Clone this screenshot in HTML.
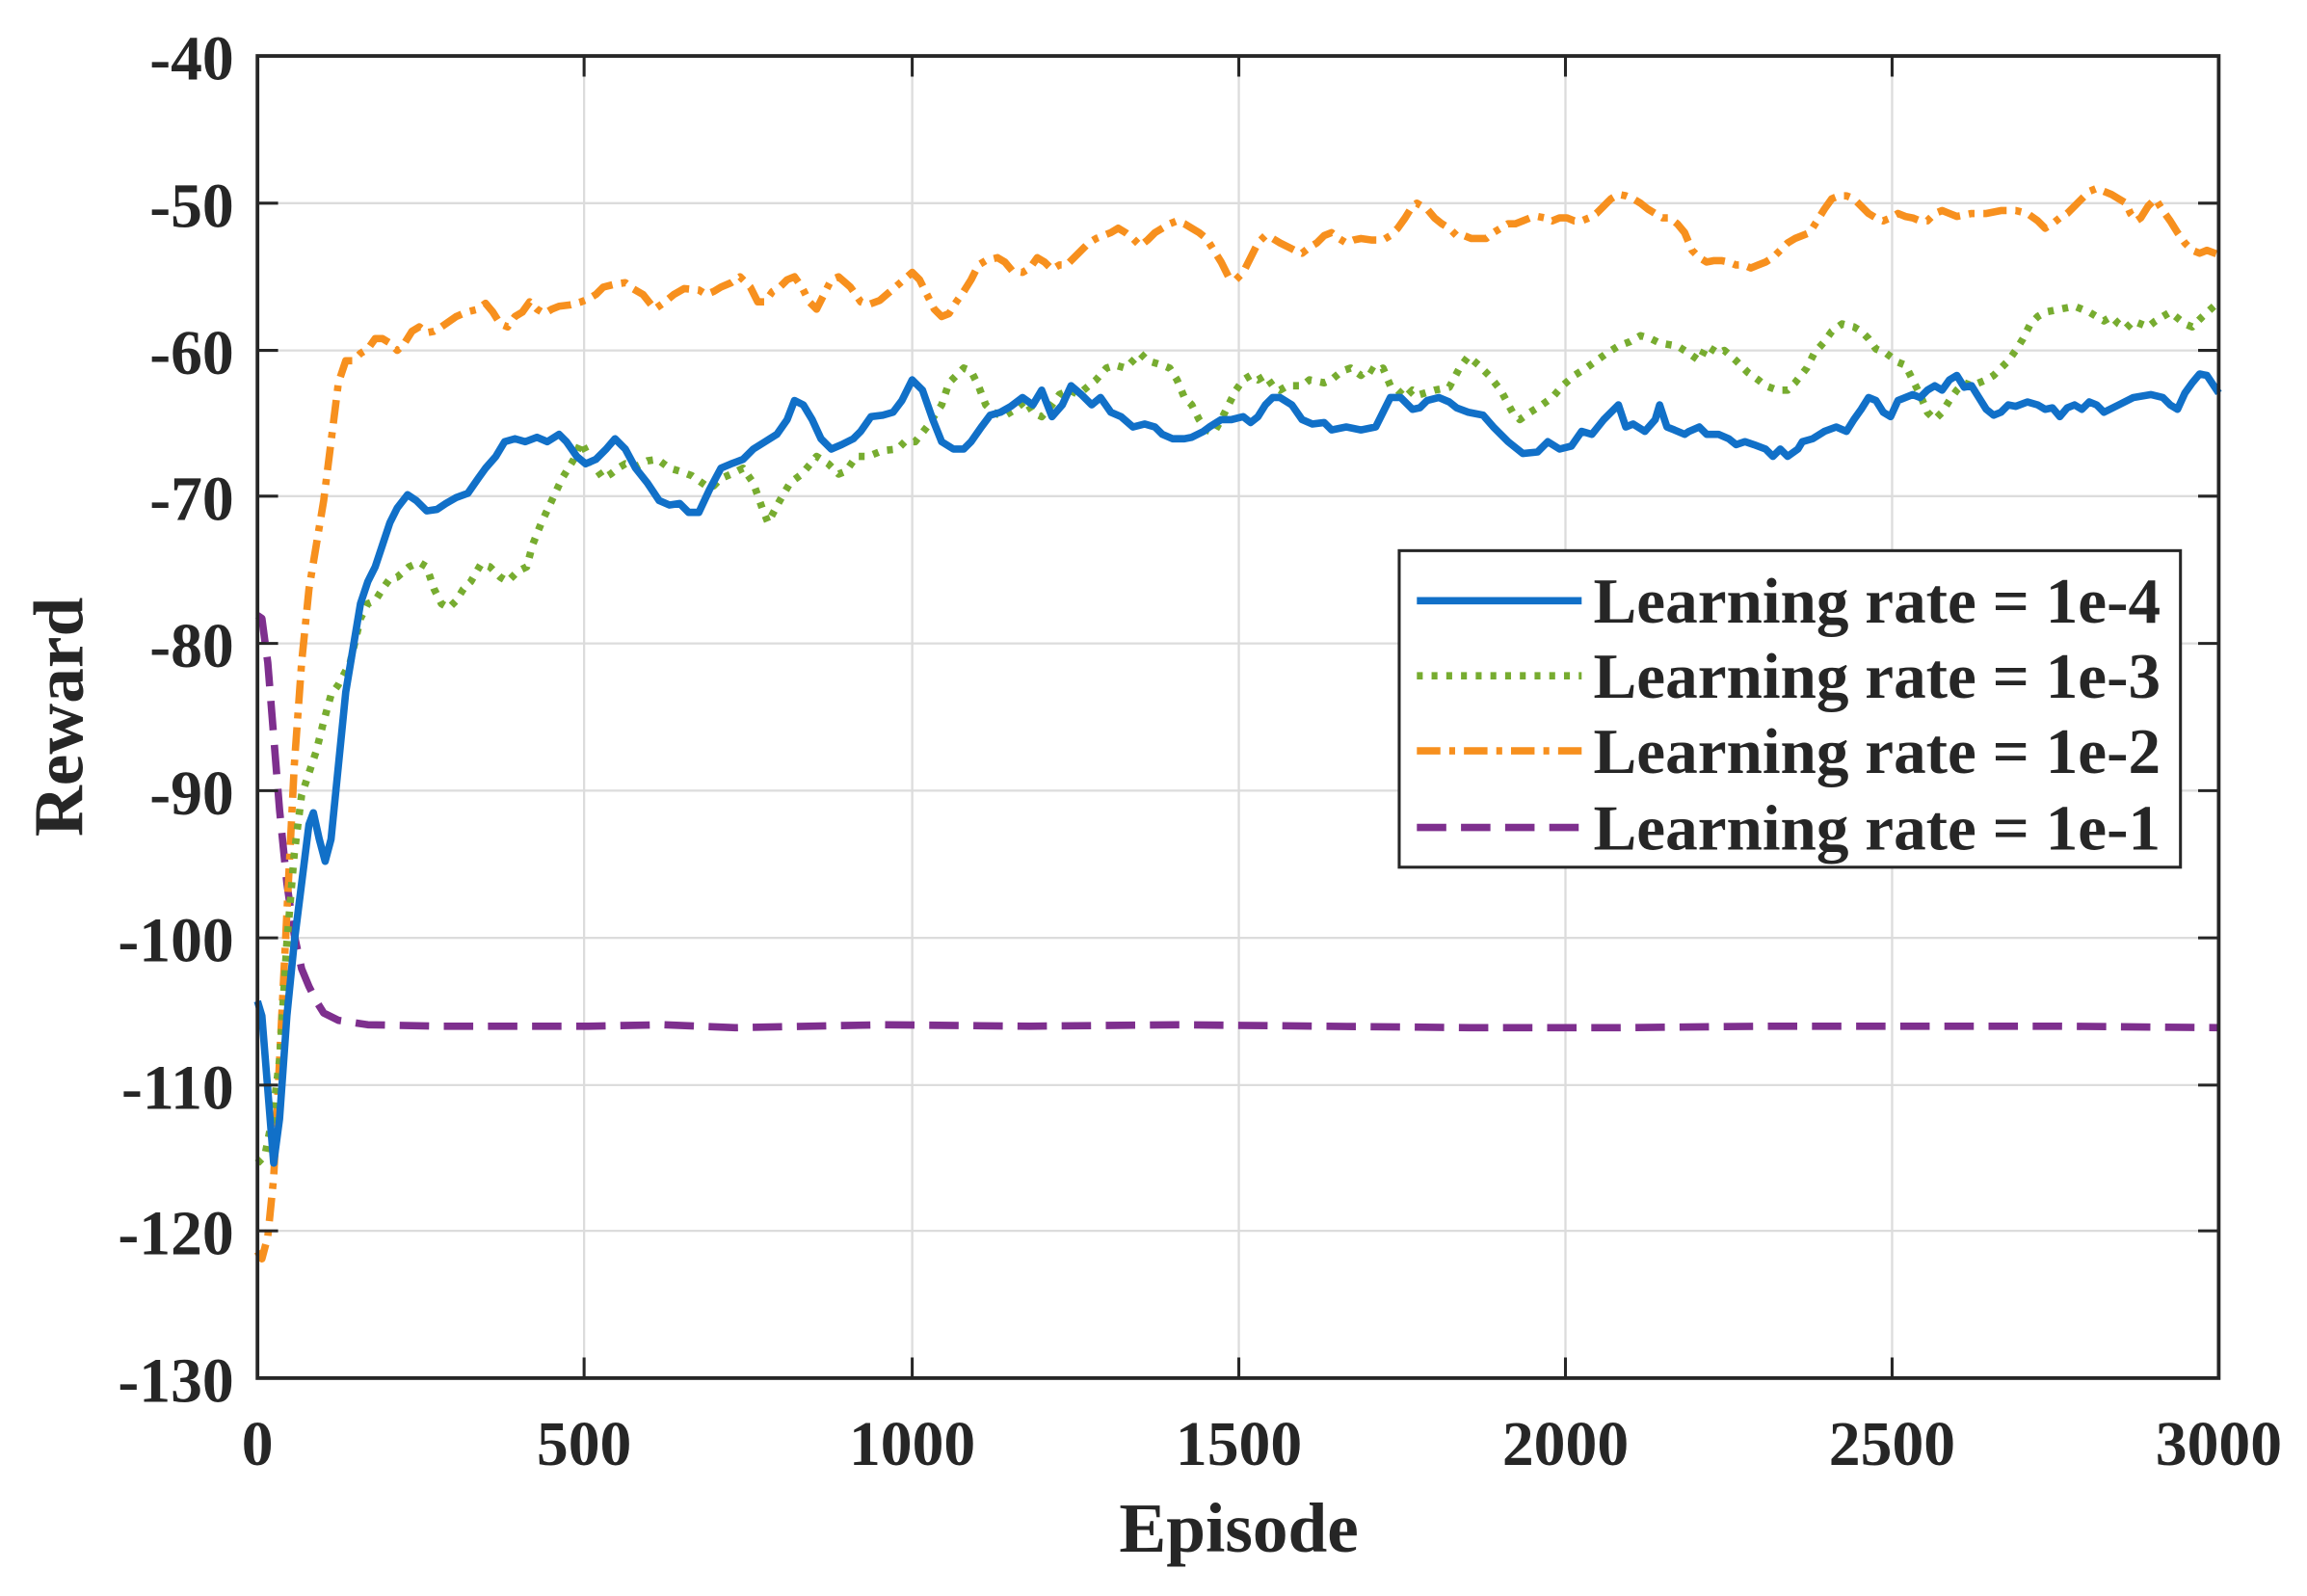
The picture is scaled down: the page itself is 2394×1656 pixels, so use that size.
<!DOCTYPE html>
<html><head><style>html,body{margin:0;padding:0;background:#fff}svg{display:block}</style></head>
<body>
<svg width="2394" height="1656" viewBox="0 0 1568 1084" preserveAspectRatio="none" xmlns="http://www.w3.org/2000/svg" font-family="Liberation Serif, serif" font-weight="bold" fill="#262626">
<rect width="1568" height="1084" fill="#fff"/>
<g stroke="#dcdcdc" stroke-width="1.5">
<line x1="397" y1="38" x2="397" y2="936"/><line x1="620" y1="38" x2="620" y2="936"/><line x1="842" y1="38" x2="842" y2="936"/><line x1="1064" y1="38" x2="1064" y2="936"/><line x1="1286" y1="38" x2="1286" y2="936"/>
<line x1="175" y1="138" x2="1508" y2="138"/><line x1="175" y1="238" x2="1508" y2="238"/><line x1="175" y1="337" x2="1508" y2="337"/><line x1="175" y1="437" x2="1508" y2="437"/><line x1="175" y1="537" x2="1508" y2="537"/><line x1="175" y1="637" x2="1508" y2="637"/><line x1="175" y1="737" x2="1508" y2="737"/><line x1="175" y1="836" x2="1508" y2="836"/>
</g>
<g fill="none" stroke-width="5" stroke-linejoin="round">
<polyline stroke="#7E2F8E" stroke-dasharray="20 10" points="175,418 178,420 182,450 186,500 190,550 195,600 200,635 205,658 210,670 215,680 220,688 230,693 250,696 300,697 400,697 450,696 500,698 600,696 700,697 800,696 900,697 1000,698 1100,698 1200,697 1300,697 1400,697 1508,698"/>
<polyline stroke="#F7901E" stroke-dasharray="16 6 4 6" points="175,850 178,855 182,840 186,800 190,720 195,620 200,520 205,450 210,400 215,370 220,340 225,300 230,260 235,245 240,245 245,240 250,237 255,230 260,230 265,233 270,238 275,233 280,225 285,222 290,226 295,225 300,222 310,215 317,212 325,210 330,206 335,212 340,220 345,222 350,215 355,212 360,205 365,210 370,213 375,210 380,208 388,207 395,205 400,203 405,200 410,195 418,193 425,192 430,196 437,200 445,210 452,205 458,200 465,196 475,197 480,200 485,198 490,195 497,192 503,188 510,195 515,205 520,205 525,198 530,195 535,190 540,188 545,195 550,205 555,210 560,200 565,190 570,188 578,195 585,205 590,207 598,204 605,198 612,192 620,185 625,190 630,200 635,210 640,215 645,213 650,205 655,198 660,190 665,180 670,177 678,175 683,178 688,184 695,185 700,182 705,175 710,178 715,183 720,180 725,180 730,175 735,170 740,165 745,162 750,160 755,158 760,155 765,158 770,162 775,167 780,163 785,158 790,155 795,152 800,150 805,152 810,155 815,158 820,162 825,170 830,178 835,188 840,190 845,185 850,175 855,165 860,160 865,162 870,165 880,170 885,172 890,168 895,165 900,160 905,158 910,162 915,165 920,163 925,162 932,163 940,163 945,160 950,155 955,148 960,140 963,138 970,142 975,148 980,152 985,155 990,160 995,160 1000,162 1010,162 1015,158 1020,155 1025,152 1030,152 1035,150 1040,148 1045,147 1050,148 1055,150 1060,148 1065,148 1070,150 1075,150 1080,148 1085,145 1090,140 1095,135 1100,132 1105,133 1110,135 1115,138 1120,142 1125,145 1130,148 1135,148 1140,152 1145,158 1150,170 1155,175 1160,178 1165,177 1170,177 1175,178 1180,180 1185,180 1190,182 1195,180 1200,178 1205,175 1210,170 1215,165 1220,162 1225,160 1230,158 1235,150 1240,142 1245,135 1250,133 1255,133 1260,135 1265,140 1270,145 1275,148 1280,150 1285,148 1290,145 1295,147 1300,148 1305,150 1310,150 1315,145 1320,143 1325,145 1330,147 1340,145 1350,145 1360,143 1370,143 1378,145 1385,150 1390,155 1395,152 1400,148 1405,145 1410,140 1415,135 1420,130 1425,128 1430,130 1435,132 1440,135 1445,138 1448,145 1452,150 1455,148 1460,140 1465,135 1470,143 1475,150 1480,158 1485,165 1490,170 1495,172 1500,170 1508,173"/>
<polyline stroke="#77AC30" stroke-dasharray="4 6" points="175,790 180,785 185,760 190,720 195,640 200,580 205,540 210,525 215,510 220,490 225,472 230,465 238,450 245,420 250,410 255,408 260,400 265,393 270,392 278,385 285,382 290,385 295,400 300,410 305,413 310,408 315,400 320,395 327,383 333,385 340,392 345,395 352,388 358,385 362,370 368,355 375,340 382,325 390,312 395,300 400,310 405,318 410,325 415,322 420,318 425,315 432,317 440,313 447,312 455,318 462,320 470,323 480,330 485,330 490,325 497,322 505,318 512,328 518,345 522,355 530,340 537,328 545,322 555,310 563,315 570,322 575,320 582,310 590,310 600,306 610,305 615,300 622,300 630,290 640,275 645,260 650,255 655,250 660,252 665,262 670,275 675,280 682,283 690,278 697,272 702,280 708,283 715,275 720,268 727,265 733,268 740,262 745,258 752,250 758,248 765,250 770,245 775,240 780,245 790,248 795,250 800,258 805,270 810,275 815,285 820,292 825,294 830,285 835,275 840,265 845,258 850,255 855,258 860,255 865,262 870,265 875,262 885,262 890,258 900,260 905,258 912,252 918,250 925,255 930,250 935,253 940,250 945,262 950,265 955,270 960,265 965,268 975,265 985,263 992,250 998,242 1005,248 1012,255 1020,265 1028,280 1033,285 1040,280 1048,275 1055,270 1062,262 1070,255 1078,250 1085,245 1092,240 1100,235 1108,232 1115,228 1122,230 1128,233 1140,235 1148,240 1155,245 1160,235 1168,240 1172,238 1180,245 1188,253 1195,258 1200,262 1208,265 1215,265 1220,260 1228,250 1233,240 1240,232 1245,225 1252,220 1260,222 1265,225 1270,230 1275,237 1282,240 1290,246 1295,248 1300,258 1305,268 1310,280 1315,285 1320,280 1325,272 1330,265 1335,260 1340,262 1350,258 1355,255 1360,250 1365,245 1370,238 1375,230 1380,220 1385,215 1390,212 1400,210 1410,208 1420,212 1425,215 1430,218 1435,215 1440,220 1445,223 1450,218 1460,222 1465,218 1475,212 1485,220 1490,222 1497,215 1508,205"/>
<polyline stroke="#1170C8" points="175,680 178,690 182,740 186,790 190,760 195,690 200,640 205,600 210,560 213,552 217,570 221,585 225,570 230,520 235,470 240,440 245,410 250,395 255,385 260,370 265,355 270,345 277,336 283,340 290,347 297,346 303,342 310,338 318,335 325,325 330,318 337,310 343,300 350,298 357,300 365,297 372,300 380,295 385,300 392,310 398,315 405,312 412,305 418,298 425,305 432,318 440,328 448,340 455,343 462,342 468,348 475,348 482,333 490,318 497,315 505,312 512,305 520,300 528,295 535,285 540,272 546,275 552,285 558,298 565,305 572,302 580,298 585,293 592,283 600,282 607,280 613,272 620,258 627,265 634,285 640,300 648,305 655,305 660,300 667,290 673,282 680,280 687,276 695,270 702,275 708,265 715,283 722,275 728,262 735,268 742,275 748,270 755,280 762,283 770,290 778,288 785,290 790,295 797,298 805,298 810,297 818,293 822,290 830,285 837,285 845,283 850,287 855,283 860,275 865,270 870,270 878,275 885,285 892,288 900,287 905,292 915,290 925,292 935,290 940,280 945,270 952,270 960,278 965,277 970,272 978,270 985,273 990,277 998,280 1008,282 1015,290 1025,300 1035,308 1045,307 1052,300 1060,305 1068,303 1075,293 1082,295 1090,285 1100,275 1105,290 1110,288 1118,293 1125,285 1128,275 1133,290 1138,292 1145,295 1148,293 1155,290 1160,295 1168,295 1175,298 1180,302 1186,300 1192,302 1200,305 1205,310 1210,305 1215,310 1222,305 1225,300 1232,298 1240,293 1248,290 1255,293 1260,285 1265,278 1270,270 1275,272 1280,280 1285,283 1290,272 1300,268 1305,270 1310,265 1315,262 1320,265 1325,258 1330,255 1335,263 1340,262 1345,270 1350,278 1355,282 1360,280 1365,275 1370,276 1378,273 1385,275 1390,278 1395,277 1400,283 1405,277 1410,275 1415,278 1420,273 1425,275 1430,280 1440,275 1450,270 1462,268 1470,270 1475,275 1480,278 1485,267 1490,260 1495,254 1500,255 1508,267"/>
</g>
<rect x="175" y="38" width="1333" height="898" fill="none" stroke="#262626" stroke-width="2.5"/>
<g stroke="#262626" stroke-width="2">
<path d="M397,936v-14M620,936v-14M842,936v-14M1064,936v-14M1286,936v-14M397,38v14M620,38v14M842,38v14M1064,38v14M1286,38v14"/>
<path d="M175,138h14M175,238h14M175,337h14M175,437h14M175,537h14M175,637h14M175,737h14M175,836h14M1508,138h-14M1508,238h-14M1508,337h-14M1508,437h-14M1508,537h-14M1508,637h-14M1508,737h-14M1508,836h-14"/>
</g>
<g font-size="43" text-anchor="end">
<text x="159" y="54">-40</text><text x="159" y="154">-50</text><text x="159" y="254">-60</text><text x="159" y="353">-70</text><text x="159" y="453">-80</text><text x="159" y="553">-90</text><text x="159" y="653">-100</text><text x="159" y="753">-110</text><text x="159" y="852">-120</text><text x="159" y="952">-130</text>
</g>
<g font-size="43" text-anchor="middle">
<text x="175" y="995">0</text><text x="397" y="995">500</text><text x="620" y="995">1000</text><text x="842" y="995">1500</text><text x="1064" y="995">2000</text><text x="1286" y="995">2500</text><text x="1508" y="995">3000</text>
</g>
<text x="842" y="1054" font-size="48" text-anchor="middle">Episode</text>
<text transform="translate(56,487) rotate(-90)" font-size="48" text-anchor="middle">Reward</text>
<rect x="951" y="374" width="531" height="215" fill="#fff" stroke="#262626" stroke-width="2"/>
<g fill="none" stroke-width="5">
<line x1="963" y1="408" x2="1075" y2="408" stroke="#1170C8"/>
<line x1="963" y1="459" x2="1075" y2="459" stroke="#77AC30" stroke-dasharray="4 6"/>
<line x1="963" y1="510" x2="1075" y2="510" stroke="#F7901E" stroke-dasharray="16 6 4 6"/>
<line x1="963" y1="562" x2="1075" y2="562" stroke="#7E2F8E" stroke-dasharray="20 10"/>
</g>
<g font-size="44">
<text x="1083" y="423">Learning rate = 1e-4</text>
<text x="1083" y="474">Learning rate = 1e-3</text>
<text x="1083" y="525">Learning rate = 1e-2</text>
<text x="1083" y="577">Learning rate = 1e-1</text>
</g>
</svg>
</body></html>
